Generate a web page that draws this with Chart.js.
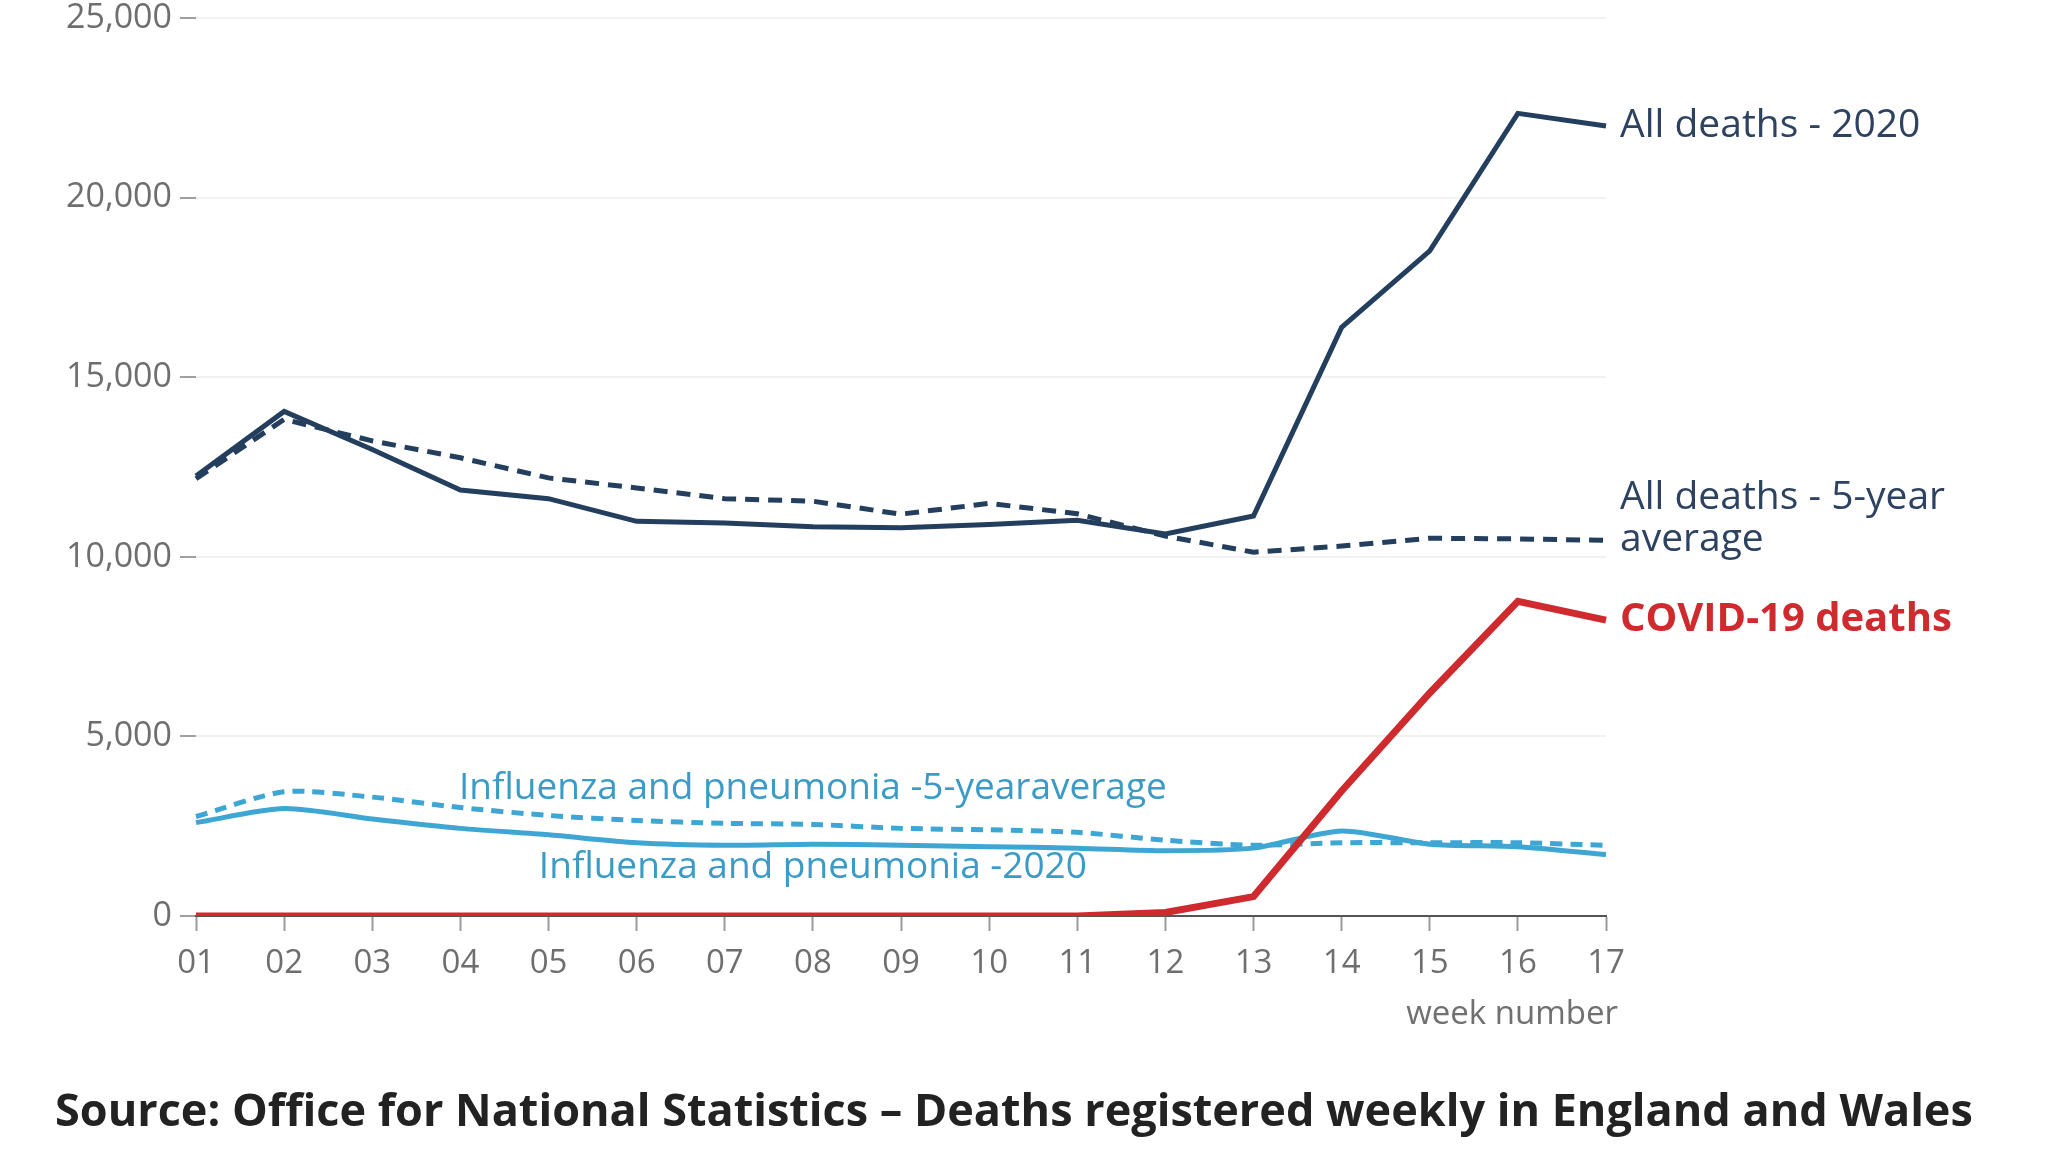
<!DOCTYPE html>
<html>
<head>
<meta charset="utf-8">
<script src="https://cdn.jsdelivr.net/npm/chart.js@4"></script>
<style>
body{margin:0;background:#fff;}
#wrap{width:2048px;height:1152px;position:relative;}
</style>
</head>
<body>
<div id="wrap"><canvas id="chart"></canvas></div>
<script>

// weekly deaths registered, England and Wales, 2020
let weeks=["01","02","03","04","05","06","07","08","09","10","11","12","13","14","15","16","17"];

let allDeaths2020=[12250,14050,12990,11860,11620,10990,10940,10840,10810,10900,11020,10640,11140,16390,18520,22350,22000];
let allDeathsAvg=[12175,13830,13230,12760,12200,11920,11620,11550,11190,11490,11200,10580,10130,10300,10520,10500,10460];
let covidDeaths=[0,0,0,0,0,0,0,0,0,0,0,100,540,3480,6210,8760,8240];
let flu2020=[2600,2990,2700,2440,2260,2040,1970,2000,1970,1930,1890,1820,1890,2370,2000,1930,1710];
let fluAvg=[2770,3460,3310,3020,2800,2660,2580,2550,2440,2400,2330,2110,1970,2040,2040,2040,1970];

let yTicks=[0,5000,10000,15000,20000,25000];

let navy="#243e5e";
let red="#cf2a2e";
let blue="#3ea6d3";
let blueText="#3b9bc6";
let font="'Open Sans', sans-serif";

// labels drawn next to the lines
let lineLabels={
id:"lineLabels",
afterDraw(chart){
let ctx=chart.ctx;
let x=chart.scales.x;
let y=chart.scales.y;
let last=weeks.length-1;
let lx=x.getPixelForValue(last)+14;

ctx.save();
ctx.textBaseline="middle";
ctx.textAlign="left";

ctx.font="39px "+font;
ctx.fillStyle="#2d4260";
ctx.fillText("All deaths - 2020",lx,y.getPixelForValue(allDeaths2020[last]));
let ya=y.getPixelForValue(allDeathsAvg[last]);
ctx.fillText("All deaths - 5-year",lx,ya-42);
ctx.fillText("average",lx,ya);

ctx.font="bold 40px "+font;
ctx.fillStyle=red;
ctx.fillText("COVID-19 deaths",lx,y.getPixelForValue(covidDeaths[last]));

ctx.font="37px "+font;
ctx.fillStyle=blueText;
ctx.textAlign="center";
let cx=x.getPixelForValue(7);
ctx.fillText("Influenza and pneumonia -5-yearaverage",cx,y.getPixelForValue(3560));
ctx.fillText("Influenza and pneumonia -2020",cx,y.getPixelForValue(1340));

ctx.font="33px "+font;
ctx.fillStyle="#707070";
ctx.textAlign="right";
ctx.fillText("week number",x.getPixelForValue(last)+12,1015);

ctx.font="bold 45px "+font;
ctx.fillStyle="#222";
ctx.textAlign="left";
ctx.fillText("Source: Office for National Statistics \u2013 Deaths registered weekly in England and Wales",55,1113);

ctx.restore();
}
};

new Chart(document.getElementById("chart"),{
type:"line",
data:{
labels:weeks,
datasets:[
{label:"COVID-19 deaths",data:covidDeaths,borderColor:red,borderWidth:7,order:0},
{label:"All deaths - 2020",data:allDeaths2020,borderColor:navy,borderWidth:5,order:1},
{label:"All deaths - 5-year average",data:allDeathsAvg,borderColor:navy,borderWidth:5,borderDash:[14,9],order:2},
{label:"Influenza and pneumonia -2020",data:flu2020,borderColor:blue,borderWidth:5,tension:0.25,order:3},
{label:"Influenza and pneumonia -5-yearaverage",data:fluAvg,borderColor:blue,borderWidth:5,borderDash:[12,8],tension:0.25,order:4}
]
},
options:{
responsive:true,
maintainAspectRatio:false,
devicePixelRatio:1,
animation:false,
elements:{point:{radius:0},line:{fill:false,borderCapStyle:"butt"}},
layout:{padding:{top:13,right:442,bottom:0,left:0}},
plugins:{legend:{display:false},tooltip:{enabled:false}},
scales:{
x:{
offset:false,
grid:{drawOnChartArea:false,drawTicks:true,tickLength:15,tickColor:"#9a9a9a",tickWidth:2},
border:{display:true,color:"#555",width:2},
ticks:{color:"#6e6e6e",font:{family:font,size:33,lineHeight:1},padding:16,maxRotation:0,autoSkip:false},
afterFit(s){s.height=236;}
},
y:{
min:0,max:25000,
afterBuildTicks(s){s.ticks=yTicks.map(v=>({value:v}));},
grid:{color:"#f1f1f1",lineWidth:2,drawTicks:true,tickLength:16,tickColor:"#a0a0a0",tickWidth:2},
border:{display:false},
ticks:{color:"#6e6e6e",font:{family:font,size:34,lineHeight:0.6},padding:8,
callback:v=>v.toLocaleString("en-GB")},
afterFit(s){s.width=196;}
}
}
},
plugins:[lineLabels]
});

</script>
</body>
</html>
